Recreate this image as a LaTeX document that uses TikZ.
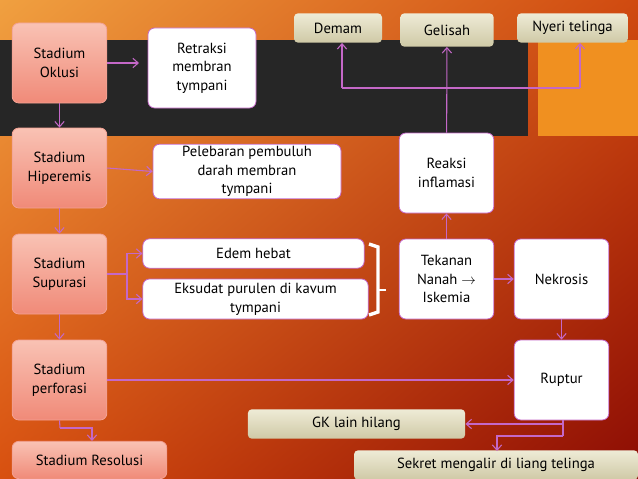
\documentclass[tikz,border=0pt]{standalone}
\usepackage{fontspec}
\setmainfont{PT Sans}
\usetikzlibrary{arrows.meta,shadings}
\definecolor{ln}{HTML}{C468C8}
\definecolor{pk1}{HTML}{F9C2B4}
\definecolor{pk2}{HTML}{F08A78}
\definecolor{bg1}{HTML}{F0A040}
\definecolor{bg2}{HTML}{D85010}
\definecolor{bg3}{HTML}{8C0C04}
\definecolor{bg4}{HTML}{D04A10}
\definecolor{org}{HTML}{F09020}
\definecolor{bei1}{HTML}{EEEBD6}
\definecolor{bei2}{HTML}{CFC9A6}
\tikzset{
 base/.style={rounded corners=5pt,align=center,font=\fontsize{11}{14}\selectfont,inner sep=1pt},
 stg/.style={base,top color=pk1,bottom color=pk2,draw=pk2!80!white,line width=0.6pt},
 wbox/.style={base,fill=white,draw=ln,line width=0.6pt},
 bbox/.style={base,top color=bei1,bottom color=bei2,draw=none,rounded corners=3pt},
 con/.style={draw=ln,line width=0.8pt,-{Straight Barb[length=4pt,width=7pt]}},
 lin/.style={draw=ln,line width=0.8pt}
}
\begin{document}
\begin{tikzpicture}[x=0.75pt,y=-0.75pt]
\useasboundingbox (0,0) rectangle (638,478);
\shade[upper left=bg1,upper right=bg4,lower left=bg2,lower right=bg3] (0,0) rectangle (638,478);
\fill[black!85] (0,40) rectangle (528,136);
\fill[org] (538,40) rectangle (638,136);
% nodes
\node[stg,minimum width=71pt,minimum height=60pt] (okl) at (59.5,63) {Stadium\\Oklusi};
\node[wbox,minimum width=81pt,minimum height=60pt] (ret) at (202,68) {Retraksi\\membran\\tympani};
\node[stg,minimum width=71pt,minimum height=60pt] (hip) at (59.5,168) {Stadium\\Hiperemis};
\node[wbox,minimum width=141pt,minimum height=41pt] (pel) at (247,171.5) {Pelebaran pembuluh\\darah membran\\tympani};
\node[stg,minimum width=71pt,minimum height=60pt] (sup) at (59.5,274) {Stadium\\Supurasi};
\node[wbox,minimum width=166pt,minimum height=22pt] (ede) at (253.5,253.5) {Edem hebat};
\node[wbox,minimum width=169pt,minimum height=30pt] (eks) at (255.5,299) {Eksudat purulen di kavum\\tympani};
\node[wbox,minimum width=71pt,minimum height=60pt] (tek) at (446.5,279) {Tekanan\\Nanah $\rightarrow$\\Iskemia};
\node[wbox,minimum width=71pt,minimum height=60pt] (nek) at (561.5,279) {Nekrosis};
\node[wbox,minimum width=71pt,minimum height=60pt] (rea) at (446.5,173) {Reaksi\\inflamasi};
\node[bbox,minimum width=66pt,minimum height=22pt] (dem) at (338,28) {Demam};
\node[bbox,minimum width=70pt,minimum height=25pt] (gel) at (447,30) {Gelisah};
\node[bbox,minimum width=83pt,minimum height=22pt] (nye) at (572.5,28) {Nyeri telinga};
\node[stg,minimum width=71pt,minimum height=60pt] (per) at (59.5,380) {Stadium\\perforasi};
\node[wbox,minimum width=71pt,minimum height=60pt] (rup) at (561.5,380) {Ruptur};
\node[bbox,minimum width=163pt,minimum height=22pt] (gk) at (356.5,424) {GK lain hilang};
\node[stg,minimum width=116pt,minimum height=28pt] (res) at (89.5,460) {Stadium Resolusi};
\node[bbox,minimum width=213pt,minimum height=22pt] (sek) at (496,465) {Sekret mengalir di liang telinga};
% bracket
\draw[white,line width=2.5pt] (369,244) -- (378,247) -- (378,312) -- (369,315);
\draw[white,line width=1pt] (378,290) -- (386,290);
% connectors
\path[con] (okl.east) -- (139,63);
\path[con] (okl) -- (hip);
\path[con] (hip.east) -- (pel.west);
\path[con] (hip) -- (sup);
\coordinate (j1) at (127,274);
\path[lin] (sup.east) -- (j1);
\path[con] (j1) |- (ede.west);
\path[con] (j1) |- (eks.west);
\path[con] (sup) -- (per);
\path[con] (per.east) -- (per.east -| rup.west);
\coordinate (j2) at (60,428);
\path[lin] (per.south) -- (j2);
\path[con] (j2) -| (92,441);
\path[con] (tek) -- (nek);
\path[con] (nek) -- (rup);
\path[con] (tek) -- (rea);
\path[con] (rea) -- (gel);
\coordinate (h1) at (342,88);
\coordinate (h2) at (580,88);
\path[lin] (h1) -- (h2);
\path[con] (h1) -- (h1 |- dem.south);
\path[con] (h2) -- (h2 |- nye.south);
\coordinate (r1) at (563,424);
\coordinate (r2) at (563,436);
\path[lin] (rup.south -| r1) -- (r2);
\path[con] (r1) -- (gk.east |- r1);
\path[con] (r2) -| (497,451);
\end{tikzpicture}
\end{document}
